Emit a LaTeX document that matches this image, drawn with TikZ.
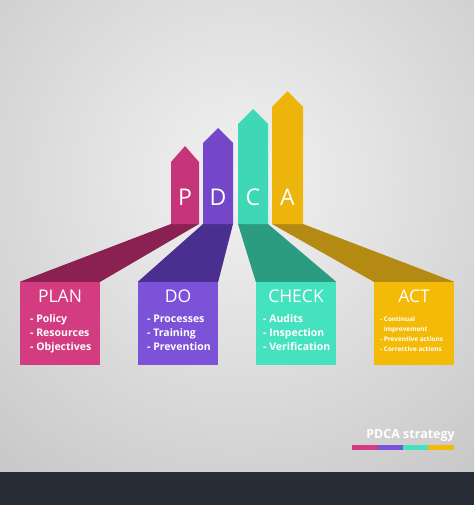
\documentclass[tikz,border=0pt]{standalone}
\usepackage{fontspec}
\setmainfont{Open Sans}
\definecolor{pinkA}{HTML}{C6357A}
\definecolor{pinkB}{HTML}{D33C81}
\definecolor{pinkR}{HTML}{8A2152}
\definecolor{purpA}{HTML}{7447C9}
\definecolor{purpB}{HTML}{7C52D8}
\definecolor{purpR}{HTML}{4A2E90}
\definecolor{tealA}{HTML}{3ED8B6}
\definecolor{tealB}{HTML}{45E2C0}
\definecolor{tealR}{HTML}{2B9C82}
\definecolor{yelA}{HTML}{EDB50C}
\definecolor{yelB}{HTML}{F4BA08}
\definecolor{yelR}{HTML}{B48A12}
\definecolor{bgin}{HTML}{F2F2F2}
\definecolor{bgout}{HTML}{A4A4A4}
\definecolor{barc}{HTML}{262B35}
\begin{document}
\begin{tikzpicture}[x=1pt,y=-1pt,
  box/.style={minimum width=80pt,minimum height=83pt,inner sep=0pt},
  letter/.style={text=white,font=\fontsize{23}{23}\selectfont},
  title/.style={text=white,font=\fontsize{17.5}{17.5}\selectfont},
  item/.style={text=white,font=\bfseries\fontsize{10.5}{14}\selectfont,align=left,anchor=north west,inner sep=0pt},
  smallitem/.style={text=white,font=\bfseries\fontsize{6.4}{10}\selectfont,align=left,anchor=north west,inner sep=0pt}]
\useasboundingbox (0,0) rectangle (474,505);
% background
\begin{scope}
\clip (0,0) rectangle (474,472);
\shade[inner color=bgin,outer color=bgout] (240,180) circle (700);
\end{scope}
\fill[barc] (0,472) rectangle (474,505);
% boxes
\node[box,fill=pinkB] (plan) at (60,323.5) {};
\node[box,fill=purpB] (do) at (178,323.5) {};
\node[box,fill=tealB] (check) at (296,323.5) {};
\node[box,fill=yelB] (act) at (414,323.5) {};
% shaft bottoms
\coordinate (pl) at (171,224); \coordinate (pr) at (199,224);
\coordinate (dl) at (203,224); \coordinate (dr) at (233,224);
\coordinate (cl) at (238,224); \coordinate (cr) at (268,224);
\coordinate (al) at (272,224); \coordinate (ar) at (303,224);
% ribbons
\fill[pinkR] (pl) -- (pr) -- (plan.north east) -- (plan.north west) -- cycle;
\fill[purpR] (dl) -- (dr) -- (do.north east) -- (do.north west) -- cycle;
\fill[tealR] (cl) -- (cr) -- (check.north east) -- (check.north west) -- cycle;
\fill[yelR] (al) -- (ar) -- (act.north east) -- (act.north west) -- cycle;
% arrows
\fill[pinkA] (pl) -- (171,162) -- (185,146) -- (199,162) -- (pr) -- cycle;
\fill[purpA] (dl) -- (203,143) -- (218,128) -- (233,143) -- (dr) -- cycle;
\fill[tealA] (cl) -- (238,124) -- (253,109) -- (268,124) -- (cr) -- cycle;
\fill[yelA] (al) -- (272,107) -- (287.5,91) -- (303,107) -- (ar) -- cycle;
\node[letter] (lp) at (185,197) {P};
\node[letter] (ld) at (218,197) {D};
\node[letter] (lc) at (253,197) {C};
\node[letter] (la) at (287.5,197) {A};
% titles
\node[title] (tplan) at (60,296) {PLAN};
\node[title] (tdo) at (178,296) {DO};
\node[title] (tcheck) at (296,296) {CHECK};
\node[title] (tact) at (414,296) {ACT};
% items
\node[item] (iplan) at (30,314) {- Policy\\- Resources\\- Objectives};
\node[item] (ido) at (147,315) {- Processes\\- Training\\- Prevention};
\node[item] (icheck) at (263,314) {- Audits\\- Inspection\\- Verification};
\node[smallitem] (iact) at (380,316.5) {- Continual\\\phantom{- }improvement\\- Preventive actions\\- Corrective actions};
% legend
\node[text=white,font=\bfseries\fontsize{12.5}{12.5}\selectfont,anchor=east,inner sep=0pt] (leg) at (455,435) {PDCA strategy};
\fill[pinkB] (352,445) rectangle (378,449.5);
\fill[purpB] (378,445) rectangle (403,449.5);
\fill[tealB] (403,445) rectangle (428,449.5);
\fill[yelB] (428,445) rectangle (454,449.5);
\end{tikzpicture}
\end{document}
